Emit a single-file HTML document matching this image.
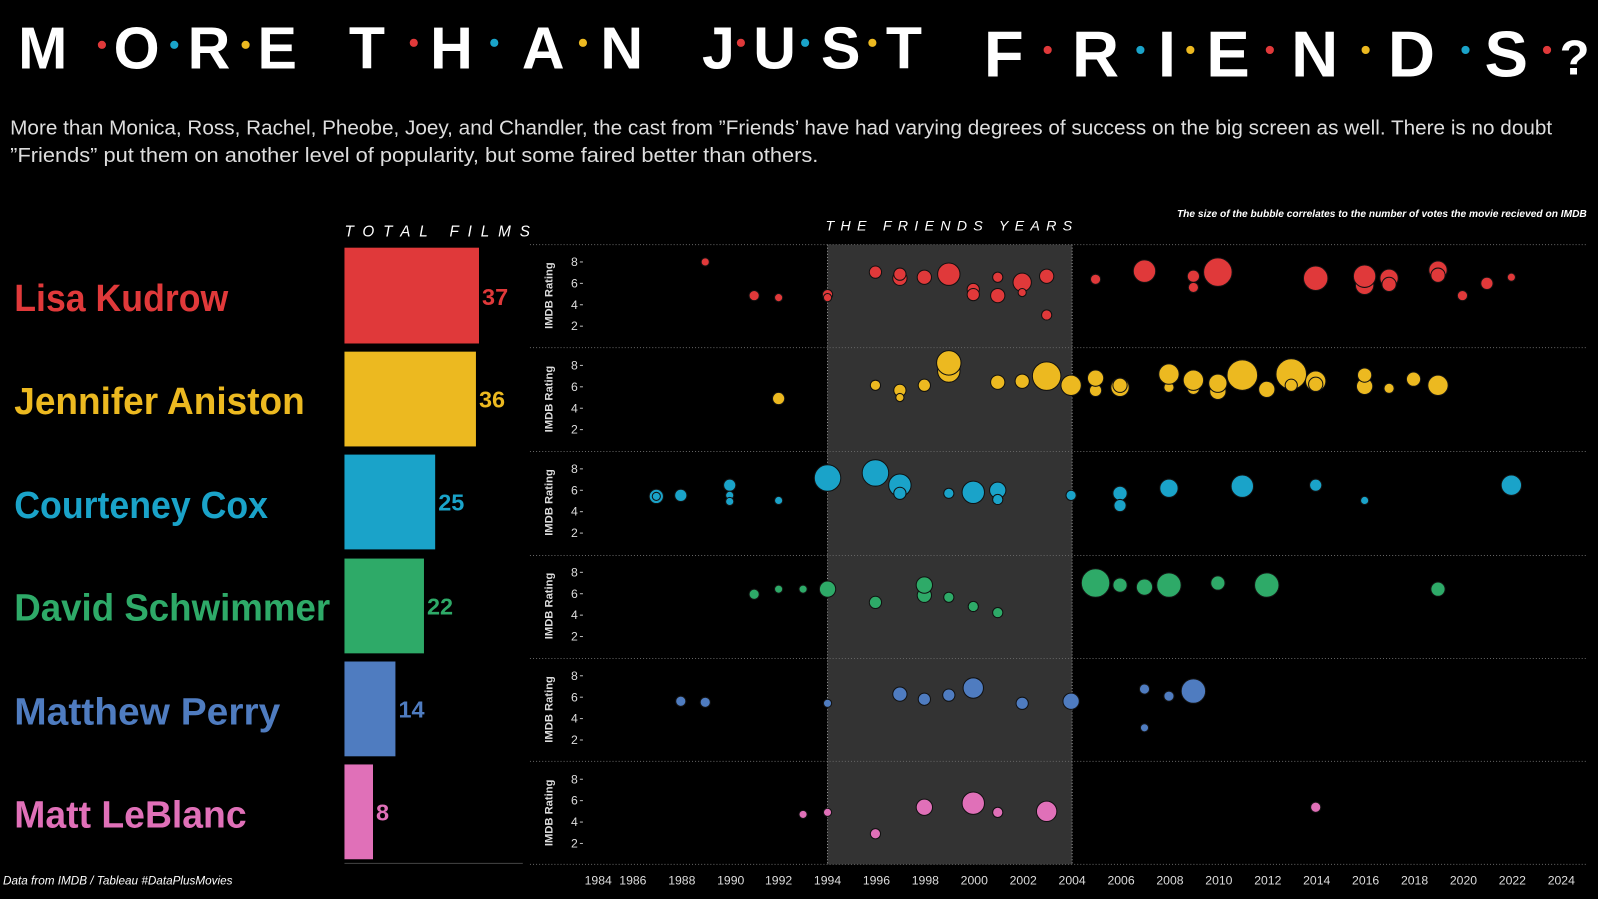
<!DOCTYPE html>
<html><head><meta charset="utf-8"><style>
html,body{margin:0;padding:0;background:#000;}
body{width:1598px;height:899px;overflow:hidden;position:relative;font-family:"Liberation Sans",sans-serif;}
</style></head><body>
<svg width="1598" height="899" viewBox="0 0 1568 882" preserveAspectRatio="none" xmlns="http://www.w3.org/2000/svg" style="position:absolute;left:0;top:0">
<rect width="1568" height="882" fill="#000"/>
<g font-family="Liberation Sans, sans-serif" font-weight="bold" font-size="58" fill="#fff" text-anchor="middle">
<text x="42" y="67">M</text><text x="134" y="67">O</text><text x="205" y="67">R</text><text x="272" y="67">E</text>
<text x="360" y="67">T</text><text x="443" y="67">H</text><text x="533" y="67">A</text><text x="610" y="67">N</text>
<text x="705" y="67">J</text><text x="760" y="67">U</text><text x="825" y="67">S</text><text x="887" y="67">T</text>
<text x="985" y="75" font-size="64">F</text><text x="1075" y="75" font-size="64">R</text><text x="1145" y="75" font-size="64">I</text><text x="1205" y="75" font-size="64">E</text><text x="1290" y="75" font-size="64">N</text><text x="1385" y="75" font-size="64">D</text><text x="1478" y="75" font-size="64">S</text><text x="1545" y="73" font-size="48">?</text>
</g>
<g>
<circle cx="100" cy="44" r="4" fill="#e0393a"/><circle cx="171" cy="44" r="4" fill="#1aa3c9"/><circle cx="241" cy="44" r="4" fill="#ecb920"/>
<circle cx="406" cy="42" r="4" fill="#e0393a"/><circle cx="485" cy="42" r="4" fill="#1aa3c9"/><circle cx="572" cy="42" r="4" fill="#ecb920"/>
<circle cx="727" cy="42" r="4" fill="#e0393a"/><circle cx="790" cy="42" r="4" fill="#1aa3c9"/><circle cx="856" cy="42" r="4" fill="#ecb920"/>
<circle cx="1028" cy="49" r="4" fill="#e0393a"/><circle cx="1119" cy="49" r="4" fill="#1aa3c9"/><circle cx="1168" cy="49" r="4" fill="#ecb920"/><circle cx="1246" cy="49" r="4" fill="#e0393a"/><circle cx="1340" cy="49" r="4" fill="#ecb920"/><circle cx="1438" cy="49" r="4" fill="#1aa3c9"/><circle cx="1518" cy="49" r="4" fill="#e0393a"/>
</g>
<g font-size="19.5" fill="#ddd">
<text x="10" y="132" textLength="1513" lengthAdjust="spacingAndGlyphs">More than Monica, Ross, Rachel, Pheobe, Joey, and Chandler, the cast from ”Friends’ have had varying degrees of success on the big screen as well. There is no doubt</text>
<text x="10" y="159" textLength="793" lengthAdjust="spacingAndGlyphs">”Friends” put them on another level of popularity, but some faired better than others.</text>
</g>
<text x="1557" y="213" font-size="10" font-weight="bold" font-style="italic" fill="#fff" text-anchor="end">The size of the bubble correlates to the number of votes the movie recieved on IMDB</text>
<text x="338" y="232" font-size="15" font-style="italic" fill="#fff" textLength="182" lengthAdjust="spacing">TOTAL FILMS</text>
<rect x="812" y="240" width="240" height="608" fill="#333"/>
<text x="810" y="226" font-size="14" font-style="italic" fill="#fff" textLength="242" lengthAdjust="spacing">THE FRIENDS YEARS</text>
<g stroke="#666" stroke-dasharray="1,2" stroke-width="1">
<line x1="520" y1="240" x2="1557" y2="240"/><line x1="520" y1="341" x2="1557" y2="341"/><line x1="520" y1="443" x2="1557" y2="443"/><line x1="520" y1="545" x2="1557" y2="545"/><line x1="520" y1="646" x2="1557" y2="646"/><line x1="520" y1="747" x2="1557" y2="747"/><line x1="520" y1="848" x2="1557" y2="848"/>
<line x1="812" y1="240" x2="812" y2="848" stroke="#999"/><line x1="1052" y1="240" x2="1052" y2="848" stroke="#999"/>
</g>
<line x1="338" y1="847" x2="513" y2="847" stroke="#444"/>
<defs>
<g id="ax" font-size="12" fill="#ddd"><text transform="translate(542,290) rotate(-90)" text-anchor="middle" font-size="11" font-weight="bold">IMDB Rating</text><text x="567" y="261" text-anchor="end">8</text><text x="567" y="282" text-anchor="end">6</text><text x="567" y="303" text-anchor="end">4</text><text x="567" y="324" text-anchor="end">2</text>
<g stroke="#bbb" stroke-width="1"><line x1="569" y1="257" x2="572" y2="257"/><line x1="569" y1="278" x2="572" y2="278"/><line x1="569" y1="299" x2="572" y2="299"/><line x1="569" y1="320" x2="572" y2="320"/></g></g>
</defs>
<use href="#ax"/>
<use href="#ax" transform="translate(0,101.5)"/>
<use href="#ax" transform="translate(0,203)"/>
<use href="#ax" transform="translate(0,304.5)"/>
<use href="#ax" transform="translate(0,406)"/>
<use href="#ax" transform="translate(0,507.5)"/>
<g font-size="12" fill="#ddd" text-anchor="middle">
<text x="587" y="868">1984</text><text x="621" y="868">1986</text><text x="669" y="868">1988</text><text x="717" y="868">1990</text><text x="764" y="868">1992</text><text x="812" y="868">1994</text><text x="860" y="868">1996</text><text x="908" y="868">1998</text><text x="956" y="868">2000</text><text x="1004" y="868">2002</text><text x="1052" y="868">2004</text><text x="1100" y="868">2006</text><text x="1148" y="868">2008</text><text x="1196" y="868">2010</text><text x="1244" y="868">2012</text><text x="1292" y="868">2014</text><text x="1340" y="868">2016</text><text x="1388" y="868">2018</text><text x="1436" y="868">2020</text><text x="1484" y="868">2022</text><text x="1532" y="868">2024</text>
</g>
<text x="3" y="868" font-size="11.5" font-style="italic" fill="#fff">Data from IMDB / Tableau #DataPlusMovies</text>
<g font-weight="bold" font-size="37">
<text x="14" y="305" fill="#e0393a" textLength="210" lengthAdjust="spacingAndGlyphs">Lisa Kudrow</text>
<text x="14" y="406" fill="#ecb920" textLength="285" lengthAdjust="spacingAndGlyphs">Jennifer Aniston</text>
<text x="14" y="508" fill="#1aa3c9" textLength="249" lengthAdjust="spacingAndGlyphs">Courteney Cox</text>
<text x="14" y="609" fill="#2eaa68" textLength="310" lengthAdjust="spacingAndGlyphs">David Schwimmer</text>
<text x="14" y="711" fill="#4f7cc0" textLength="261" lengthAdjust="spacingAndGlyphs">Matthew Perry</text>
<text x="14" y="812" fill="#e070b8" textLength="228" lengthAdjust="spacingAndGlyphs">Matt LeBlanc</text>
</g>
<rect x="338" y="243" width="132" height="94" fill="#e0393a"/>
<rect x="338" y="345" width="129" height="93" fill="#ecb920"/>
<rect x="338" y="446" width="89" height="93" fill="#1aa3c9"/>
<rect x="338" y="548" width="78" height="93" fill="#2eaa68"/>
<rect x="338" y="649" width="50" height="93" fill="#4f7cc0"/>
<rect x="338" y="750" width="28" height="93" fill="#e070b8"/>
<g font-weight="bold" font-size="23">
<text x="473" y="299" fill="#e0393a">37</text>
<text x="470" y="400" fill="#ecb920">36</text>
<text x="430" y="501" fill="#1aa3c9">25</text>
<text x="419" y="603" fill="#2eaa68">22</text>
<text x="391" y="704" fill="#4f7cc0">14</text>
<text x="369" y="805" fill="#e070b8">8</text>
</g>
<g stroke="#111" stroke-width="1" fill="#e0393a">
<circle cx="692" cy="257" r="4"/><circle cx="740" cy="290" r="5"/><circle cx="764" cy="292" r="4"/><circle cx="812" cy="289" r="5"/><circle cx="812" cy="292" r="4"/><circle cx="859" cy="267" r="6"/><circle cx="883" cy="273" r="7"/><circle cx="883" cy="269" r="6"/><circle cx="907" cy="272" r="7"/><circle cx="931" cy="269" r="11"/><circle cx="955" cy="284" r="6"/><circle cx="955" cy="289" r="6"/><circle cx="979" cy="272" r="5"/><circle cx="979" cy="290" r="7"/><circle cx="1003" cy="277" r="9"/><circle cx="1003" cy="287" r="4"/><circle cx="1027" cy="271" r="7"/><circle cx="1027" cy="309" r="5"/><circle cx="1075" cy="274" r="5"/><circle cx="1123" cy="266" r="11"/><circle cx="1171" cy="271" r="6"/><circle cx="1171" cy="282" r="5"/><circle cx="1195" cy="267" r="14"/><circle cx="1291" cy="273" r="12"/><circle cx="1339" cy="280" r="9"/><circle cx="1339" cy="271" r="11"/><circle cx="1363" cy="273" r="9"/><circle cx="1363" cy="279" r="7"/><circle cx="1411" cy="265" r="9"/><circle cx="1411" cy="270" r="7"/><circle cx="1435" cy="290" r="5"/><circle cx="1459" cy="278" r="6"/><circle cx="1483" cy="272" r="4"/>
</g>
<g stroke="#111" stroke-width="1" fill="#ecb920">
<circle cx="764" cy="391" r="6"/><circle cx="859" cy="378" r="5"/><circle cx="883" cy="383" r="6"/><circle cx="883" cy="390" r="4"/><circle cx="907" cy="378" r="6"/><circle cx="931" cy="364" r="11"/><circle cx="931" cy="356" r="12"/><circle cx="979" cy="375" r="7"/><circle cx="1003" cy="374" r="7"/><circle cx="1027" cy="369" r="14"/><circle cx="1051" cy="378" r="10"/><circle cx="1075" cy="383" r="6"/><circle cx="1075" cy="371" r="8"/><circle cx="1099" cy="380" r="9"/><circle cx="1099" cy="378" r="7"/><circle cx="1147" cy="380" r="5"/><circle cx="1147" cy="367" r="10"/><circle cx="1171" cy="381" r="6"/><circle cx="1171" cy="373" r="10"/><circle cx="1195" cy="384" r="8"/><circle cx="1195" cy="376" r="9"/><circle cx="1219" cy="368" r="15"/><circle cx="1243" cy="382" r="8"/><circle cx="1267" cy="367" r="15"/><circle cx="1267" cy="378" r="6"/><circle cx="1291" cy="374" r="10"/><circle cx="1291" cy="377" r="7"/><circle cx="1339" cy="379" r="8"/><circle cx="1339" cy="368" r="7"/><circle cx="1363" cy="381" r="5"/><circle cx="1387" cy="372" r="7"/><circle cx="1411" cy="378" r="10"/>
</g>
<g stroke="#111" stroke-width="1" fill="#1aa3c9">
<circle cx="644" cy="487" r="7"/><circle cx="644" cy="487" r="4"/><circle cx="668" cy="486" r="6"/><circle cx="716" cy="476" r="6"/><circle cx="716" cy="486" r="4"/><circle cx="716" cy="492" r="4"/><circle cx="764" cy="491" r="4"/><circle cx="812" cy="469" r="13"/><circle cx="859" cy="464" r="13"/><circle cx="883" cy="476" r="11"/><circle cx="883" cy="484" r="6"/><circle cx="931" cy="484" r="5"/><circle cx="955" cy="483" r="11"/><circle cx="979" cy="481" r="8"/><circle cx="979" cy="490" r="5"/><circle cx="1051" cy="486" r="5"/><circle cx="1099" cy="484" r="7"/><circle cx="1099" cy="496" r="6"/><circle cx="1147" cy="479" r="9"/><circle cx="1219" cy="477" r="11"/><circle cx="1291" cy="476" r="6"/><circle cx="1339" cy="491" r="4"/><circle cx="1483" cy="476" r="10"/>
</g>
<g stroke="#111" stroke-width="1" fill="#2eaa68">
<circle cx="740" cy="583" r="5"/><circle cx="764" cy="578" r="4"/><circle cx="788" cy="578" r="4"/><circle cx="812" cy="578" r="8"/><circle cx="859" cy="591" r="6"/><circle cx="907" cy="584" r="7"/><circle cx="907" cy="574" r="8"/><circle cx="931" cy="586" r="5"/><circle cx="955" cy="595" r="5"/><circle cx="979" cy="601" r="5"/><circle cx="1075" cy="572" r="14"/><circle cx="1099" cy="574" r="7"/><circle cx="1123" cy="576" r="8"/><circle cx="1147" cy="574" r="12"/><circle cx="1195" cy="572" r="7"/><circle cx="1243" cy="574" r="12"/><circle cx="1411" cy="578" r="7"/>
</g>
<g stroke="#111" stroke-width="1" fill="#4f7cc0">
<circle cx="668" cy="688" r="5"/><circle cx="692" cy="689" r="5"/><circle cx="812" cy="690" r="4"/><circle cx="883" cy="681" r="7"/><circle cx="907" cy="686" r="6"/><circle cx="931" cy="682" r="6"/><circle cx="955" cy="675" r="10"/><circle cx="1003" cy="690" r="6"/><circle cx="1051" cy="688" r="8"/><circle cx="1123" cy="676" r="5"/><circle cx="1123" cy="714" r="4"/><circle cx="1147" cy="683" r="5"/><circle cx="1171" cy="678" r="12"/>
</g>
<g stroke="#111" stroke-width="1" fill="#e070b8">
<circle cx="788" cy="799" r="4"/><circle cx="812" cy="797" r="4"/><circle cx="859" cy="818" r="5"/><circle cx="907" cy="792" r="8"/><circle cx="955" cy="788" r="11"/><circle cx="979" cy="797" r="5"/><circle cx="1027" cy="796" r="10"/><circle cx="1291" cy="792" r="5"/>
</g>
</svg>
</body></html>
